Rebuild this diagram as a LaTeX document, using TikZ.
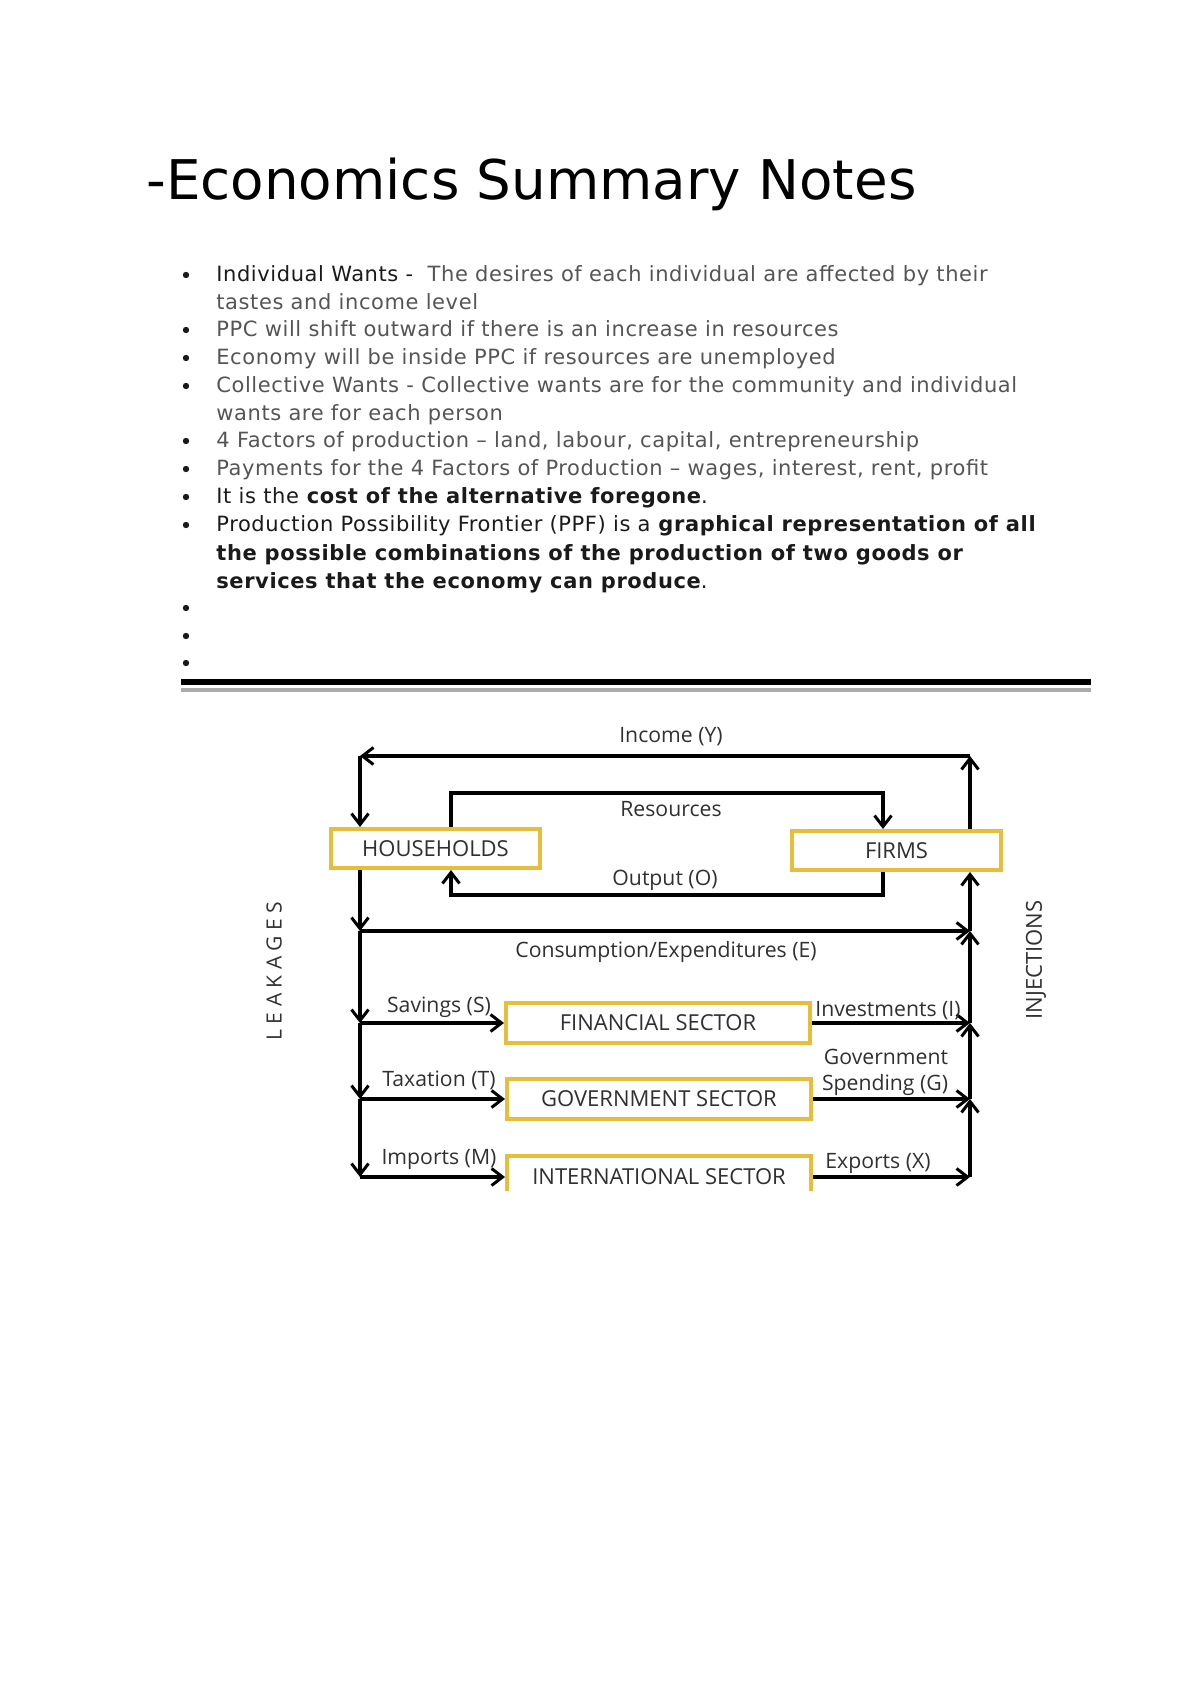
\documentclass[tikz,border=0pt]{standalone}
\usepackage{fontspec}
\setmainfont{DejaVu Sans}
\newfontfamily\diagfont{Open Sans}
\newfontfamily\bodyfont[LetterSpace=2.8]{DejaVu Sans}
\usetikzlibrary{arrows.meta}
\definecolor{txtgray}{HTML}{555555}
\definecolor{txtdark}{HTML}{1A1A1A}
\definecolor{boxyel}{HTML}{E6BE3C}
\definecolor{diagtxt}{HTML}{303030}
\definecolor{rulegray}{HTML}{ABABAB}
\begin{document}
\begin{tikzpicture}[x=0.5pt,y=-0.5pt,
  bl/.style={anchor=base west, inner sep=0pt, text=txtgray, font=\bodyfont\fontsize{10.5}{12}\selectfont},
  bdot/.style={fill=txtdark},
  sbox/.style={draw=boxyel, line width=2pt, fill=white, inner sep=0pt, minimum width=104.5pt, minimum height=19.5pt, text=diagtxt, font=\diagfont\fontsize{11}{13}\selectfont},
  wbox/.style={sbox, minimum width=152pt, minimum height=20pt},
  lbl/.style={inner sep=0pt, text=diagtxt, font=\diagfont\fontsize{10.6}{13}\selectfont},
  arr/.style={-{Straight Barb[length=5.5pt,width=8.5pt,line width=1.5pt]}, line width=1.6pt},
  ln/.style={line width=1.6pt}
]
\useasboundingbox (0,0) rectangle (1200,1696);
% title
\node[anchor=base west, inner sep=0pt, font=\fontsize{27.35}{32}\selectfont] (title) at (146,200) {-Economics Summary Notes};
% bullets
\foreach \yy in {281,336,364,392,447,475,503,531,614,642,669}
  \fill[bdot] (186,\yy-6) circle (3.2);
\node[bl] (l0) at (216,281) {\textcolor{txtdark}{Individual Wants -}\ \ The desires of each individual are affected by their};
\node[bl] (l1) at (216,309) {tastes and income level};
\node[bl] (l2) at (216,336) {PPC will shift outward if there is an increase in resources};
\node[bl] (l3) at (216,364) {Economy will be inside PPC if resources are unemployed};
\node[bl] (l4) at (216,392) {Collective Wants - Collective wants are for the community and individual};
\node[bl] (l5) at (216,420) {wants are for each person};
\node[bl] (l6) at (216,447) {4 Factors of production – land, labour, capital, entrepreneurship};
\node[bl] (l7) at (216,475) {Payments for the 4 Factors of Production – wages, interest, rent, profit};
\node[bl, text=txtdark] (l8) at (216,503) {It is the \textbf{cost of the alternative foregone}.};
\node[bl, text=txtdark] (l9) at (216,531) {Production Possibility Frontier (PPF) is a \textbf{graphical representation of all}};
\node[bl, text=txtdark] (l10) at (216,560) {\textbf{the possible combinations of the production of two goods or}};
\node[bl, text=txtdark] (l11) at (216,588) {\textbf{services that the economy can produce}.};
% rules
\draw[line width=2.6pt] (181,682) -- (1091,682);
\draw[rulegray, line width=1.6pt] (181,690) -- (1091,690);
% diagram
\begin{scope}
\clip (290,700) rectangle (1100,1190);
\node[sbox] (HH) at (435.5,848.5) {HOUSEHOLDS};
\node[sbox] (FI) at (896.5,850.5) {FIRMS};
\node[wbox] (FS) at (658,1023) {FINANCIAL SECTOR};
\node[wbox] (GS) at (659,1099) {GOVERNMENT SECTOR};
\node[wbox, minimum height=21pt] (IS) at (659,1177) {INTERNATIONAL SECTOR};
\coordinate (TL) at (360,756);
\coordinate (TR) at (970,756);
\coordinate (LC) at (360,931);
\coordinate (RC) at (970,931);
\coordinate (LS) at (360,1023);
\coordinate (RS) at (970,1023);
\coordinate (LT) at (360,1099);
\coordinate (RT) at (970,1099);
\coordinate (LM) at (360,1177);
\coordinate (RM) at (970,1177);
\coordinate (RA) at (451,793);
\coordinate (RB) at (883,793);
\coordinate (OA) at (883,895);
\coordinate (OB) at (451,895);
% income loop
\draw[arr] (TR |- FI.north) -- (TR);
\draw[arr] (TR) -- (TL);
\draw[arr] (TL) -- (TL |- HH.north);
% resources / output
\draw[arr] (RA |- HH.north) -- (RA) -- (RB) -- (RB |- FI.north);
\draw[arr] (OA |- FI.south) -- (OA) -- (OB) -- (OB |- HH.south);
% left leakages
\draw[arr] (LC |- HH.south) -- (LC);
\draw[arr] (LC) -- (LS);
\draw[arr] (LS) -- (LT);
\draw[arr] (LT) -- (LM);
% consumption
\draw[arr] (LC) -- (RC);
% sectors in
\draw[arr] (LS) -- (FS.west);
\draw[arr] (LT) -- (GS.west);
\draw[arr] (LM) -- (IS.west);
% sectors out
\draw[arr] (FS.east) -- (RS);
\draw[arr] (GS.east) -- (RT);
\draw[arr] (IS.east) -- (RM);
% right injections
\draw[arr] (RM) -- (RT);
\draw[arr] (RT) -- (RS);
\draw[arr] (RS) -- (RC);
\draw[arr] (RC) -- (RC |- FI.south);
% labels
\node[lbl] (tinc) at (671,737) {Income (Y)};
\node[lbl] (tres) at (671,809) {Resources};
\node[lbl] (tout) at (665,880) {Output (O)};
\node[lbl] (tcon) at (666,952) {Consumption/Expenditures (E)};
\node[lbl] (tsav) at (439,1007) {Savings (S)};
\node[lbl] (ttax) at (439,1080) {Taxation (T)};
\node[lbl] (timp) at (439,1159) {Imports (M)};
\node[lbl] (tinv) at (888,1011) {Investments (I)};
\node[lbl] (tgov) at (886,1057) {Government};
\node[lbl] (tspe) at (885,1085) {Spending (G)};
\node[lbl] (texp) at (878,1163) {Exports (X)};
\end{scope}
\node[lbl, rotate=90, font=\diagfont\fontsize{10.5}{12}\selectfont] (leak) at (274,971) {L E A K A G E S};
\node[lbl, rotate=90, font=\diagfont\fontsize{11}{13}\selectfont] (inj) at (1036,960) {INJECTIONS};
\end{tikzpicture}
\end{document}
